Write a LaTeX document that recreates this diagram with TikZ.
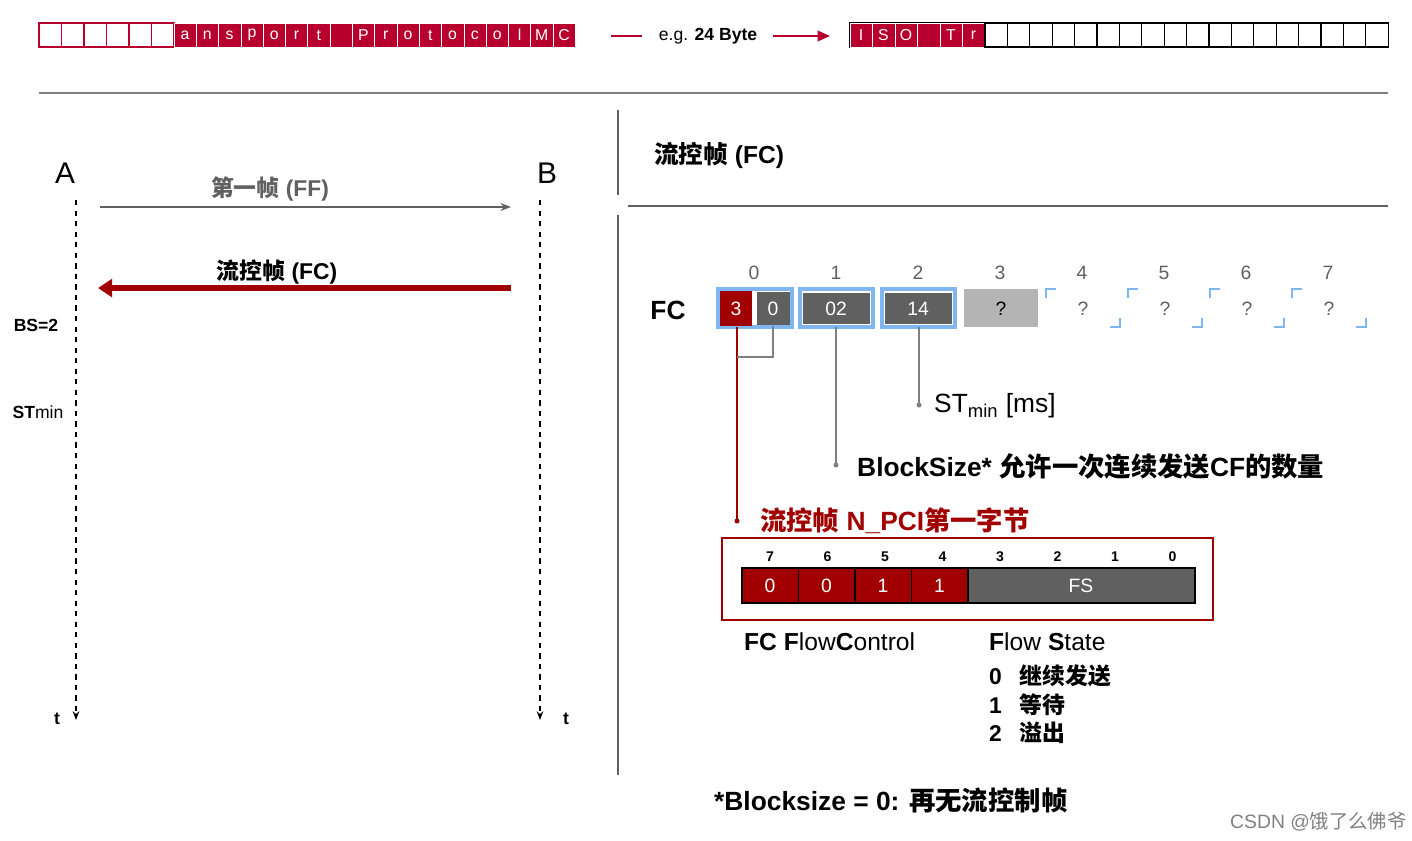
\documentclass[tikz,border=0pt]{standalone}
\usepackage{fontspec}
\setmainfont{Liberation Sans}
\newfontfamily\cjk{Noto Sans CJK SC}
\usetikzlibrary{arrows.meta}
\definecolor{crim}{HTML}{B8002E}
\definecolor{dred}{HTML}{A00000}
\definecolor{dgray}{HTML}{606060}
\definecolor{lgray}{HTML}{B4B4B4}
\definecolor{lblue}{HTML}{7FB5F0}
\begin{document}
\begin{tikzpicture}[x=0.02cm,y=-0.02cm,
  cellw/.style={draw=crim,fill=white,line width=0.6pt},
  cellr/.style={draw=white,fill=crim,line width=0.4pt},
  cellk/.style={draw=black,fill=white,line width=0.6pt},
  ct/.style={text=white,font=\fontsize{9}{9}\selectfont},
  lbl/.style={font=\fontsize{12}{12}\selectfont\bfseries},
  idx/.style={text=dgray,font=\fontsize{11}{11}\selectfont},
  bit/.style={font=\fontsize{8}{8}\selectfont\bfseries},
  conn/.style={draw=gray,line width=0.8pt}]
\useasboundingbox (0,0) rectangle (1412,840);
% top strip left
\foreach \i in {0,...,5} \draw[cellw] (39+\i*22.5,23) rectangle ++(22.5,24);
\foreach \c [count=\i from 0] in {a,n,s,p,o,r,t,{},P,r,o,t,o,c,o,l,M,C}
  {\draw[cellr] (174+\i*22.3,23) rectangle ++(22.3,24); \node[ct] at (174+\i*22.3+11,35) {\c};}
% top strip right
\draw[black,line width=0.6pt] (850,23) rectangle (985,47);
\foreach \c [count=\i from 0] in {I,S,O,{},T,r}
  {\draw[cellr] (850+\i*22.5,23) rectangle ++(22.5,24); \node[ct] at (850+\i*22.5+11,35) {\c};}
\foreach \i in {0,...,17} \draw[cellk] (985+\i*22.4,23) rectangle ++(22.4,24);
\coordinate (ea) at (611,36); \coordinate (eb) at (642,36);
\draw[crim,line width=1pt] (ea) -- (eb);
\node[font=\fontsize{10}{10}\selectfont] (eg) at (708,36) {e.g. \textbf{24 Byte}};
\coordinate (ec) at (773,36); \coordinate (ed) at (830,36);
\draw[crim,line width=1pt,-{Triangle[length=7pt,width=6pt]}] (ec) -- (ed);
% separators
\draw[gray,line width=0.8pt] (39,93) -- (1388,93);
\draw[dgray,line width=0.8pt] (618,110) -- (618,195) (618,215) -- (618,775) (628,206) -- (1388,206);
\node[anchor=west,font=\fontsize{14}{14}\selectfont\bfseries] at (648,155) {{\cjk\bfseries 流控帧} (FC)};
% left timeline
\node[font=\fontsize{17}{17}\selectfont] (A) at (65,173) {A};
\node[font=\fontsize{17}{17}\selectfont] (B) at (547,173) {B};
\coordinate (a1) at (76,200); \coordinate (a2) at (76,720);
\coordinate (b1) at (540,200); \coordinate (b2) at (540,720);
\draw[dashed,line width=0.8pt,-{Stealth[length=5pt]}] (a1) -- (a2);
\draw[dashed,line width=0.8pt,-{Stealth[length=5pt]}] (b1) -- (b2);
\node[font=\fontsize{10}{10}\selectfont\bfseries] at (57,719) {t};
\node[font=\fontsize{10}{10}\selectfont\bfseries] at (566,719) {t};
\coordinate (f1) at (100,207); \coordinate (f2) at (511,207);
\draw[dgray,line width=1.2pt,-{Stealth[length=6pt]}] (f1) -- (f2);
\node[text=dgray,font=\fontsize{13}{13}\selectfont\bfseries] at (270,189) {{\cjk\bfseries 第一帧} (FF)};
\coordinate (c1) at (511,288); \coordinate (c2) at (98,288);
\draw[dred,line width=3pt,-{Triangle[length=8pt,width=10pt]}] (c1) -- (c2);
\node[font=\fontsize{13}{13}\selectfont\bfseries] at (277,272) {{\cjk\bfseries 流控帧} (FC)};
\node[font=\fontsize{10}{10}\selectfont\bfseries] at (36,325) {BS=2};
\node[font=\fontsize{10}{10}\selectfont] at (38,412) {\textbf{ST}min};
% FC bytes
\node[font=\fontsize{15}{15}\selectfont\bfseries] at (668,310) {FC};
\foreach \k [count=\i from 0] in {0,...,7} \node[idx] at (754+\i*82,273) {\k};
\draw[draw=lblue,line width=2pt] (718,289) rectangle (792,327);
\fill[dred] (720,291) rectangle (752,326);
\node[text=white,font=\fontsize{11}{11}\selectfont] at (736,309) {3};
\fill[dgray] (757,292) rectangle (790,325);
\node[text=white,font=\fontsize{11}{11}\selectfont] at (773,309) {0};
\foreach \x/\t in {799/02,881/14}{
  \draw[draw=lblue,line width=2pt] (\x+1,289) rectangle (\x+74,327);
  \fill[dgray] (\x+4,293) rectangle (\x+71,324);
  \node[text=white,font=\fontsize{11}{11}\selectfont] at (\x+37,309) {\t};}
\fill[lgray] (964,289) rectangle (1038,327);
\node[font=\fontsize{11}{11}\selectfont] at (1001,309) {?};
\foreach \i in {0,...,3}{
  \pgfmathsetmacro\xx{1046+\i*82}
  \draw[lblue,line width=0.8pt] (\xx,298) -- (\xx,289) -- (\xx+10,289) (\xx+74,318) -- (\xx+74,327) -- (\xx+64,327);
  \node[text=dgray,font=\fontsize{11}{11}\selectfont] at (\xx+37,309) {?};}
% connectors
\coordinate (p0) at (737,327); \coordinate (p0e) at (737,521);
\draw[dred,line width=1pt] (p0) -- (p0e); \fill[dred] (p0e) circle (2.5);
\coordinate (q0) at (773,326); \coordinate (q1) at (773,357); \coordinate (q2) at (737,357);
\draw[conn] (q0) -- (q1) -- (q2);
\coordinate (p1) at (836,327); \coordinate (p1e) at (836,465);
\draw[conn] (p1) -- (p1e); \fill[gray] (p1e) circle (2.5);
\coordinate (p2) at (919,327); \coordinate (p2e) at (919,405);
\draw[conn] (p2) -- (p2e); \fill[gray] (p2e) circle (2.5);
\node[anchor=west,font=\fontsize{15}{15}\selectfont] at (928,406) {ST\textsubscript{min} [ms]};
\node[anchor=west,font=\fontsize{15}{15}\selectfont\bfseries] at (851,466) {BlockSize* {\cjk 允许一次连续发送}CF{\cjk 的数量}};
\node[anchor=west,text=dred,font=\fontsize{15}{15}\selectfont\bfseries] at (754,521) {{\cjk\bfseries 流控帧} N\_PCI{\cjk\bfseries 第一字节}};
% N_PCI box
\draw[dred,line width=1pt] (722,538) rectangle (1213,620);
\foreach \b [count=\i from 0] in {7,6,5,4,3,2,1,0} \node[bit] at (770+\i*57.5,557) {\b};
\foreach \v [count=\i from 0] in {0,0,1,1}{
  \draw[fill=dred,draw=black,line width=0.6pt] (742+\i*56.5,568) rectangle ++(56.5,35);
  \node[text=white,font=\fontsize{11}{11}\selectfont] at (742+\i*56.5+28,586) {\v};}
\draw[fill=dgray,draw=black,line width=0.6pt] (968,568) rectangle (1195,603);
\node[text=white,font=\fontsize{11}{11}\selectfont] at (1081,586) {FS};
\node[anchor=west,font=\fontsize{14}{14}\selectfont] at (738,642) {\textbf{FC F}low\textbf{C}ontrol};
\node[anchor=west,font=\fontsize{14}{14}\selectfont] at (983,642) {\textbf{F}low \textbf{S}tate};
\foreach \n/\t [count=\i from 0] in {0/继续发送,1/等待,2/溢出}
  \node[anchor=west,font=\fontsize{13}{13}\selectfont\bfseries] at (983,676+\i*28.5) {\n\hspace{10pt}{\cjk\bfseries \t}};
\node[anchor=west,font=\fontsize{15}{15}\selectfont\bfseries] at (708,800) {*Blocksize = 0: {\cjk\bfseries 再无流控制帧}};
\node[anchor=west,text=gray,font=\fontsize{11}{11}\selectfont] at (1224,822) {CSDN @{\cjk 饿了么佛爷}};
\end{tikzpicture}
\end{document}
